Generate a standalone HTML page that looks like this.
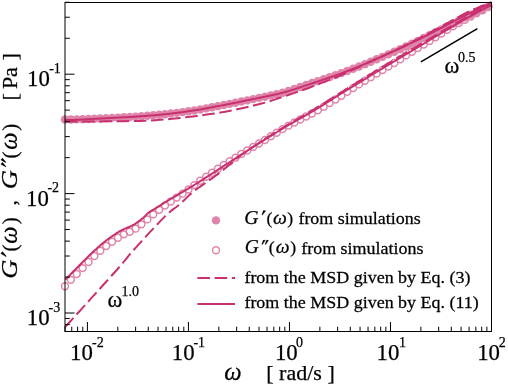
<!DOCTYPE html>
<html><head><meta charset="utf-8"><style>html,body{margin:0;padding:0;background:#fff;width:508px;height:385px;overflow:hidden}svg{display:block;will-change:transform}</style></head>
<body><svg width="508" height="385" viewBox="0 0 508 385">
<defs><clipPath id="c"><rect x="64" y="0" width="430" height="333"/></clipPath></defs>
<circle cx="65.00" cy="119.50" r="4.2" fill="#df85aa"/>
<circle cx="70.88" cy="119.53" r="4.2" fill="#df85aa"/>
<circle cx="76.76" cy="119.37" r="4.2" fill="#df85aa"/>
<circle cx="82.64" cy="119.17" r="4.2" fill="#df85aa"/>
<circle cx="88.52" cy="118.95" r="4.2" fill="#df85aa"/>
<circle cx="94.40" cy="118.71" r="4.2" fill="#df85aa"/>
<circle cx="100.28" cy="118.46" r="4.2" fill="#df85aa"/>
<circle cx="106.16" cy="118.19" r="4.2" fill="#df85aa"/>
<circle cx="112.04" cy="117.90" r="4.2" fill="#df85aa"/>
<circle cx="117.92" cy="117.60" r="4.2" fill="#df85aa"/>
<circle cx="123.80" cy="117.30" r="4.2" fill="#df85aa"/>
<circle cx="129.68" cy="116.99" r="4.2" fill="#df85aa"/>
<circle cx="135.56" cy="116.65" r="4.2" fill="#df85aa"/>
<circle cx="141.44" cy="116.26" r="4.2" fill="#df85aa"/>
<circle cx="147.32" cy="115.82" r="4.2" fill="#df85aa"/>
<circle cx="153.20" cy="115.32" r="4.2" fill="#df85aa"/>
<circle cx="159.08" cy="114.78" r="4.2" fill="#df85aa"/>
<circle cx="164.96" cy="114.19" r="4.2" fill="#df85aa"/>
<circle cx="170.84" cy="113.56" r="4.2" fill="#df85aa"/>
<circle cx="176.72" cy="112.88" r="4.2" fill="#df85aa"/>
<circle cx="182.60" cy="112.13" r="4.2" fill="#df85aa"/>
<circle cx="188.48" cy="111.32" r="4.2" fill="#df85aa"/>
<circle cx="194.36" cy="110.43" r="4.2" fill="#df85aa"/>
<circle cx="200.24" cy="109.44" r="4.2" fill="#df85aa"/>
<circle cx="206.12" cy="108.39" r="4.2" fill="#df85aa"/>
<circle cx="212.00" cy="107.29" r="4.2" fill="#df85aa"/>
<circle cx="217.88" cy="106.16" r="4.2" fill="#df85aa"/>
<circle cx="223.76" cy="105.01" r="4.2" fill="#df85aa"/>
<circle cx="229.64" cy="103.87" r="4.2" fill="#df85aa"/>
<circle cx="235.52" cy="102.73" r="4.2" fill="#df85aa"/>
<circle cx="241.40" cy="101.55" r="4.2" fill="#df85aa"/>
<circle cx="247.28" cy="100.35" r="4.2" fill="#df85aa"/>
<circle cx="253.16" cy="99.13" r="4.2" fill="#df85aa"/>
<circle cx="259.04" cy="97.90" r="4.2" fill="#df85aa"/>
<circle cx="264.92" cy="96.70" r="4.2" fill="#df85aa"/>
<circle cx="270.80" cy="95.53" r="4.2" fill="#df85aa"/>
<circle cx="276.68" cy="94.24" r="4.2" fill="#df85aa"/>
<circle cx="282.56" cy="92.69" r="4.2" fill="#df85aa"/>
<circle cx="288.44" cy="90.88" r="4.2" fill="#df85aa"/>
<circle cx="294.32" cy="88.90" r="4.2" fill="#df85aa"/>
<circle cx="300.20" cy="86.93" r="4.2" fill="#df85aa"/>
<circle cx="306.08" cy="84.99" r="4.2" fill="#df85aa"/>
<circle cx="311.96" cy="83.04" r="4.2" fill="#df85aa"/>
<circle cx="317.84" cy="81.08" r="4.2" fill="#df85aa"/>
<circle cx="323.72" cy="79.12" r="4.2" fill="#df85aa"/>
<circle cx="329.60" cy="77.14" r="4.2" fill="#df85aa"/>
<circle cx="335.48" cy="75.13" r="4.2" fill="#df85aa"/>
<circle cx="341.36" cy="73.09" r="4.2" fill="#df85aa"/>
<circle cx="347.24" cy="70.99" r="4.2" fill="#df85aa"/>
<circle cx="353.12" cy="68.80" r="4.2" fill="#df85aa"/>
<circle cx="359.00" cy="66.53" r="4.2" fill="#df85aa"/>
<circle cx="364.88" cy="64.17" r="4.2" fill="#df85aa"/>
<circle cx="370.76" cy="61.75" r="4.2" fill="#df85aa"/>
<circle cx="376.64" cy="59.32" r="4.2" fill="#df85aa"/>
<circle cx="382.52" cy="56.86" r="4.2" fill="#df85aa"/>
<circle cx="388.40" cy="54.36" r="4.2" fill="#df85aa"/>
<circle cx="394.28" cy="51.81" r="4.2" fill="#df85aa"/>
<circle cx="400.16" cy="49.20" r="4.2" fill="#df85aa"/>
<circle cx="406.04" cy="46.52" r="4.2" fill="#df85aa"/>
<circle cx="411.92" cy="43.77" r="4.2" fill="#df85aa"/>
<circle cx="417.80" cy="40.94" r="4.2" fill="#df85aa"/>
<circle cx="423.68" cy="38.07" r="4.2" fill="#df85aa"/>
<circle cx="429.56" cy="35.18" r="4.2" fill="#df85aa"/>
<circle cx="435.44" cy="32.28" r="4.2" fill="#df85aa"/>
<circle cx="441.32" cy="29.36" r="4.2" fill="#df85aa"/>
<circle cx="447.20" cy="26.40" r="4.2" fill="#df85aa"/>
<circle cx="453.08" cy="23.43" r="4.2" fill="#df85aa"/>
<circle cx="458.96" cy="20.48" r="4.2" fill="#df85aa"/>
<circle cx="464.84" cy="17.58" r="4.2" fill="#df85aa"/>
<circle cx="470.72" cy="14.75" r="4.2" fill="#df85aa"/>
<circle cx="476.60" cy="11.97" r="4.2" fill="#df85aa"/>
<circle cx="482.48" cy="9.21" r="4.2" fill="#df85aa"/>
<circle cx="488.36" cy="6.47" r="4.2" fill="#df85aa"/>
<circle cx="65.00" cy="286.20" r="3.45" fill="none" stroke="#df85aa" stroke-width="1.5"/>
<circle cx="70.88" cy="279.85" r="3.45" fill="none" stroke="#df85aa" stroke-width="1.5"/>
<circle cx="76.76" cy="273.99" r="3.45" fill="none" stroke="#df85aa" stroke-width="1.5"/>
<circle cx="82.64" cy="268.11" r="3.45" fill="none" stroke="#df85aa" stroke-width="1.5"/>
<circle cx="88.52" cy="262.00" r="3.45" fill="none" stroke="#df85aa" stroke-width="1.5"/>
<circle cx="94.40" cy="256.07" r="3.45" fill="none" stroke="#df85aa" stroke-width="1.5"/>
<circle cx="100.28" cy="250.72" r="3.45" fill="none" stroke="#df85aa" stroke-width="1.5"/>
<circle cx="106.16" cy="246.04" r="3.45" fill="none" stroke="#df85aa" stroke-width="1.5"/>
<circle cx="112.04" cy="241.74" r="3.45" fill="none" stroke="#df85aa" stroke-width="1.5"/>
<circle cx="117.92" cy="237.71" r="3.45" fill="none" stroke="#df85aa" stroke-width="1.5"/>
<circle cx="123.80" cy="234.37" r="3.45" fill="none" stroke="#df85aa" stroke-width="1.5"/>
<circle cx="129.68" cy="231.71" r="3.45" fill="none" stroke="#df85aa" stroke-width="1.5"/>
<circle cx="135.56" cy="228.63" r="3.45" fill="none" stroke="#df85aa" stroke-width="1.5"/>
<circle cx="141.44" cy="224.36" r="3.45" fill="none" stroke="#df85aa" stroke-width="1.5"/>
<circle cx="147.32" cy="219.38" r="3.45" fill="none" stroke="#df85aa" stroke-width="1.5"/>
<circle cx="153.20" cy="214.40" r="3.45" fill="none" stroke="#df85aa" stroke-width="1.5"/>
<circle cx="159.08" cy="209.74" r="3.45" fill="none" stroke="#df85aa" stroke-width="1.5"/>
<circle cx="164.96" cy="205.47" r="3.45" fill="none" stroke="#df85aa" stroke-width="1.5"/>
<circle cx="170.84" cy="201.50" r="3.45" fill="none" stroke="#df85aa" stroke-width="1.5"/>
<circle cx="176.72" cy="197.60" r="3.45" fill="none" stroke="#df85aa" stroke-width="1.5"/>
<circle cx="182.60" cy="193.64" r="3.45" fill="none" stroke="#df85aa" stroke-width="1.5"/>
<circle cx="188.48" cy="189.52" r="3.45" fill="none" stroke="#df85aa" stroke-width="1.5"/>
<circle cx="194.36" cy="185.11" r="3.45" fill="none" stroke="#df85aa" stroke-width="1.5"/>
<circle cx="200.24" cy="180.82" r="3.45" fill="none" stroke="#df85aa" stroke-width="1.5"/>
<circle cx="206.12" cy="176.76" r="3.45" fill="none" stroke="#df85aa" stroke-width="1.5"/>
<circle cx="212.00" cy="172.70" r="3.45" fill="none" stroke="#df85aa" stroke-width="1.5"/>
<circle cx="217.88" cy="168.71" r="3.45" fill="none" stroke="#df85aa" stroke-width="1.5"/>
<circle cx="223.76" cy="164.93" r="3.45" fill="none" stroke="#df85aa" stroke-width="1.5"/>
<circle cx="229.64" cy="161.29" r="3.45" fill="none" stroke="#df85aa" stroke-width="1.5"/>
<circle cx="235.52" cy="157.66" r="3.45" fill="none" stroke="#df85aa" stroke-width="1.5"/>
<circle cx="241.40" cy="154.02" r="3.45" fill="none" stroke="#df85aa" stroke-width="1.5"/>
<circle cx="247.28" cy="150.41" r="3.45" fill="none" stroke="#df85aa" stroke-width="1.5"/>
<circle cx="253.16" cy="146.92" r="3.45" fill="none" stroke="#df85aa" stroke-width="1.5"/>
<circle cx="259.04" cy="143.51" r="3.45" fill="none" stroke="#df85aa" stroke-width="1.5"/>
<circle cx="264.92" cy="139.96" r="3.45" fill="none" stroke="#df85aa" stroke-width="1.5"/>
<circle cx="270.80" cy="136.32" r="3.45" fill="none" stroke="#df85aa" stroke-width="1.5"/>
<circle cx="276.68" cy="132.69" r="3.45" fill="none" stroke="#df85aa" stroke-width="1.5"/>
<circle cx="282.56" cy="129.10" r="3.45" fill="none" stroke="#df85aa" stroke-width="1.5"/>
<circle cx="288.44" cy="125.64" r="3.45" fill="none" stroke="#df85aa" stroke-width="1.5"/>
<circle cx="294.32" cy="122.42" r="3.45" fill="none" stroke="#df85aa" stroke-width="1.5"/>
<circle cx="300.20" cy="119.43" r="3.45" fill="none" stroke="#df85aa" stroke-width="1.5"/>
<circle cx="306.08" cy="116.47" r="3.45" fill="none" stroke="#df85aa" stroke-width="1.5"/>
<circle cx="311.96" cy="113.46" r="3.45" fill="none" stroke="#df85aa" stroke-width="1.5"/>
<circle cx="317.84" cy="110.19" r="3.45" fill="none" stroke="#df85aa" stroke-width="1.5"/>
<circle cx="323.72" cy="106.66" r="3.45" fill="none" stroke="#df85aa" stroke-width="1.5"/>
<circle cx="329.60" cy="103.12" r="3.45" fill="none" stroke="#df85aa" stroke-width="1.5"/>
<circle cx="335.48" cy="99.55" r="3.45" fill="none" stroke="#df85aa" stroke-width="1.5"/>
<circle cx="341.36" cy="95.77" r="3.45" fill="none" stroke="#df85aa" stroke-width="1.5"/>
<circle cx="347.24" cy="91.87" r="3.45" fill="none" stroke="#df85aa" stroke-width="1.5"/>
<circle cx="353.12" cy="88.07" r="3.45" fill="none" stroke="#df85aa" stroke-width="1.5"/>
<circle cx="359.00" cy="84.38" r="3.45" fill="none" stroke="#df85aa" stroke-width="1.5"/>
<circle cx="364.88" cy="80.76" r="3.45" fill="none" stroke="#df85aa" stroke-width="1.5"/>
<circle cx="370.76" cy="77.16" r="3.45" fill="none" stroke="#df85aa" stroke-width="1.5"/>
<circle cx="376.64" cy="73.56" r="3.45" fill="none" stroke="#df85aa" stroke-width="1.5"/>
<circle cx="382.52" cy="69.96" r="3.45" fill="none" stroke="#df85aa" stroke-width="1.5"/>
<circle cx="388.40" cy="66.46" r="3.45" fill="none" stroke="#df85aa" stroke-width="1.5"/>
<circle cx="394.28" cy="62.95" r="3.45" fill="none" stroke="#df85aa" stroke-width="1.5"/>
<circle cx="400.16" cy="59.19" r="3.45" fill="none" stroke="#df85aa" stroke-width="1.5"/>
<circle cx="406.04" cy="55.40" r="3.45" fill="none" stroke="#df85aa" stroke-width="1.5"/>
<circle cx="411.92" cy="51.71" r="3.45" fill="none" stroke="#df85aa" stroke-width="1.5"/>
<circle cx="417.80" cy="48.06" r="3.45" fill="none" stroke="#df85aa" stroke-width="1.5"/>
<circle cx="423.68" cy="44.47" r="3.45" fill="none" stroke="#df85aa" stroke-width="1.5"/>
<circle cx="429.56" cy="40.91" r="3.45" fill="none" stroke="#df85aa" stroke-width="1.5"/>
<circle cx="435.44" cy="37.29" r="3.45" fill="none" stroke="#df85aa" stroke-width="1.5"/>
<circle cx="441.32" cy="33.53" r="3.45" fill="none" stroke="#df85aa" stroke-width="1.5"/>
<circle cx="447.20" cy="29.83" r="3.45" fill="none" stroke="#df85aa" stroke-width="1.5"/>
<circle cx="453.08" cy="26.34" r="3.45" fill="none" stroke="#df85aa" stroke-width="1.5"/>
<circle cx="458.96" cy="22.97" r="3.45" fill="none" stroke="#df85aa" stroke-width="1.5"/>
<circle cx="464.84" cy="19.69" r="3.45" fill="none" stroke="#df85aa" stroke-width="1.5"/>
<circle cx="470.72" cy="16.51" r="3.45" fill="none" stroke="#df85aa" stroke-width="1.5"/>
<circle cx="476.60" cy="13.34" r="3.45" fill="none" stroke="#df85aa" stroke-width="1.5"/>
<circle cx="482.48" cy="10.18" r="3.45" fill="none" stroke="#df85aa" stroke-width="1.5"/>
<circle cx="488.36" cy="7.02" r="3.45" fill="none" stroke="#df85aa" stroke-width="1.5"/>
<g clip-path="url(#c)">
<path d="M65.00,121.00 L65.69,121.05 L66.44,121.13 L67.31,121.22 L68.38,121.32 L69.71,121.41 L71.38,121.50 L73.45,121.56 L76.00,121.60 L79.11,121.61 L82.74,121.60 L86.80,121.58 L91.19,121.54 L95.80,121.49 L100.54,121.43 L105.31,121.37 L110.00,121.30 L114.71,121.24 L119.58,121.20 L124.56,121.16 L129.62,121.11 L134.74,121.03 L139.86,120.92 L144.96,120.74 L150.00,120.50 L155.00,120.19 L160.00,119.83 L165.00,119.43 L170.00,118.97 L175.00,118.48 L180.00,117.95 L185.00,117.39 L190.00,116.80 L195.03,116.18 L200.12,115.51 L205.22,114.82 L210.31,114.08 L215.37,113.31 L220.35,112.51 L225.24,111.67 L230.00,110.80 L234.75,109.86 L239.57,108.83 L244.37,107.74 L249.06,106.63 L253.56,105.53 L257.77,104.47 L261.62,103.48 L265.00,102.60 L267.76,101.85 L269.92,101.22 L271.65,100.67 L273.12,100.16 L274.52,99.65 L276.02,99.09 L277.78,98.46 L280.00,97.70 L282.61,96.84 L285.43,95.92 L288.42,94.95 L291.56,93.92 L294.82,92.85 L298.16,91.71 L301.57,90.53 L305.00,89.30 L308.65,87.94 L312.62,86.43 L316.76,84.83 L320.94,83.19 L325.00,81.59 L328.79,80.08 L332.17,78.73 L335.00,77.60 L337.07,76.77 L338.44,76.23 L339.34,75.86 L340.00,75.58 L340.66,75.28 L341.56,74.87 L342.93,74.24 L345.00,73.30 L347.79,72.03 L351.09,70.52 L354.79,68.83 L358.75,67.01 L362.87,65.11 L367.03,63.19 L371.11,61.30 L375.00,59.50 L378.75,57.77 L382.50,56.05 L386.25,54.33 L390.00,52.61 L393.75,50.87 L397.50,49.11 L401.25,47.32 L405.00,45.50 L408.75,43.64 L412.50,41.75 L416.25,39.84 L420.00,37.91 L423.75,35.95 L427.50,33.98 L431.25,32.00 L435.00,30.00 L438.77,27.95 L442.58,25.83 L446.40,23.67 L450.22,21.50 L454.01,19.37 L457.75,17.30 L461.42,15.33 L465.00,13.50 L468.66,11.74 L472.49,10.00 L476.36,8.32 L480.12,6.72 L483.66,5.25 L486.82,3.95 L489.48,2.85 L491.50,2.00" fill="none" stroke="#c9306f" stroke-width="2" stroke-dasharray="12.6,4.6"/>
<path d="M65.00,327.20 L69.23,322.53 L75.11,316.05 L82.13,308.30 L89.79,299.85 L97.59,291.24 L105.01,283.02 L111.55,275.76 L116.70,270.00 L120.38,265.81 L123.03,262.70 L124.95,260.37 L126.42,258.52 L127.73,256.86 L129.17,255.08 L131.03,252.90 L133.60,250.00 L136.95,246.30 L140.83,242.05 L145.06,237.44 L149.45,232.69 L153.83,228.01 L158.00,223.59 L161.78,219.65 L165.00,216.40 L167.63,213.87 L169.85,211.90 L171.75,210.35 L173.41,209.10 L174.93,208.02 L176.39,206.97 L177.88,205.84 L179.50,204.50 L181.18,202.99 L182.80,201.46 L184.39,199.91 L185.96,198.37 L187.52,196.84 L189.08,195.35 L190.67,193.90 L192.30,192.50 L193.95,191.18 L195.61,189.92 L197.28,188.71 L198.96,187.53 L200.66,186.36 L202.38,185.18 L204.13,183.96 L205.90,182.70 L207.68,181.42 L209.46,180.17 L211.24,178.91 L213.06,177.62 L214.91,176.29 L216.83,174.90 L218.82,173.40 L220.90,171.80 L223.12,170.02 L225.48,168.07 L227.94,166.00 L230.45,163.88 L232.96,161.75 L235.42,159.69 L237.78,157.75 L240.00,156.00 L241.97,154.49 L243.69,153.20 L245.27,152.05 L246.82,150.95 L248.46,149.83 L250.29,148.60 L252.44,147.18 L255.00,145.50 L258.03,143.52 L261.45,141.32 L265.15,138.94 L269.06,136.45 L273.09,133.90 L277.15,131.36 L281.15,128.87 L285.00,126.50 L288.75,124.23 L292.50,122.01 L296.25,119.82 L300.00,117.64 L303.75,115.46 L307.50,113.27 L311.25,111.06 L315.00,108.80 L318.75,106.50 L322.50,104.17 L326.25,101.82 L330.00,99.45 L333.75,97.08 L337.50,94.70 L341.25,92.34 L345.00,90.00 L348.75,87.67 L352.50,85.34 L356.25,83.02 L360.00,80.70 L363.75,78.39 L367.50,76.08 L371.25,73.79 L375.00,71.50 L378.75,69.23 L382.50,66.96 L386.25,64.71 L390.00,62.46 L393.75,60.22 L397.50,57.98 L401.25,55.74 L405.00,53.50 L408.75,51.26 L412.50,49.01 L416.25,46.77 L420.00,44.53 L423.75,42.29 L427.50,40.05 L431.25,37.82 L435.00,35.60 L438.77,33.36 L442.58,31.09 L446.40,28.82 L450.22,26.56 L454.01,24.32 L457.75,22.14 L461.42,20.03 L465.00,18.00 L468.66,15.98 L472.49,13.92 L476.36,11.87 L480.12,9.90 L483.66,8.07 L486.82,6.43 L489.48,5.06 L491.50,4.00" fill="none" stroke="#c9306f" stroke-width="2" stroke-dasharray="12.6,4.6"/>
<path d="M65.00,119.90 L65.69,119.90 L66.44,119.92 L67.31,119.94 L68.38,119.96 L69.71,119.97 L71.38,119.95 L73.45,119.89 L76.00,119.80 L79.11,119.66 L82.74,119.48 L86.80,119.28 L91.19,119.04 L95.80,118.79 L100.54,118.53 L105.31,118.27 L110.00,118.00 L114.71,117.74 L119.58,117.49 L124.56,117.24 L129.62,116.97 L134.74,116.68 L139.86,116.36 L144.96,116.00 L150.00,115.60 L155.00,115.16 L160.00,114.69 L165.00,114.19 L170.00,113.66 L175.00,113.08 L180.00,112.47 L185.00,111.81 L190.00,111.10 L195.07,110.31 L200.23,109.44 L205.44,108.51 L210.62,107.55 L215.73,106.57 L220.70,105.61 L225.48,104.67 L230.00,103.80 L234.30,102.97 L238.44,102.15 L242.42,101.35 L246.25,100.56 L249.92,99.80 L253.44,99.07 L256.80,98.37 L260.00,97.70 L262.98,97.09 L265.70,96.54 L268.23,96.03 L270.62,95.54 L272.94,95.06 L275.23,94.55 L277.57,94.01 L280.00,93.40 L282.33,92.80 L284.41,92.24 L286.40,91.69 L288.44,91.09 L290.67,90.41 L293.24,89.60 L296.30,88.61 L300.00,87.40 L304.53,85.90 L309.84,84.14 L315.70,82.19 L321.88,80.11 L328.12,77.98 L334.22,75.87 L339.92,73.85 L345.00,72.00 L349.47,70.31 L353.55,68.69 L357.35,67.14 L360.94,65.63 L364.41,64.13 L367.85,62.63 L371.35,61.09 L375.00,59.50 L378.75,57.87 L382.50,56.23 L386.25,54.57 L390.00,52.89 L393.75,51.20 L397.50,49.49 L401.25,47.76 L405.00,46.00 L408.75,44.22 L412.50,42.41 L416.25,40.58 L420.00,38.74 L423.75,36.87 L427.50,34.99 L431.25,33.10 L435.00,31.20 L438.77,29.26 L442.58,27.26 L446.40,25.24 L450.22,23.21 L454.01,21.19 L457.75,19.22 L461.42,17.32 L465.00,15.50 L468.66,13.70 L472.49,11.86 L476.36,10.03 L480.12,8.27 L483.66,6.63 L486.82,5.17 L489.48,3.94 L491.50,3.00" fill="none" stroke="#c9306f" stroke-width="2"/>
<path d="M65.40,279.50 L67.24,277.65 L69.78,275.09 L72.81,272.03 L76.13,268.69 L79.52,265.28 L82.77,262.02 L85.67,259.12 L88.00,256.80 L89.78,255.04 L91.22,253.64 L92.40,252.50 L93.39,251.56 L94.28,250.74 L95.14,249.96 L96.05,249.14 L97.10,248.20 L98.22,247.20 L99.31,246.22 L100.39,245.27 L101.48,244.32 L102.59,243.38 L103.74,242.44 L104.93,241.48 L106.20,240.50 L107.58,239.46 L109.09,238.37 L110.68,237.24 L112.29,236.12 L113.87,235.03 L115.39,234.01 L116.78,233.09 L118.00,232.30 L119.01,231.67 L119.86,231.17 L120.57,230.77 L121.22,230.44 L121.84,230.15 L122.50,229.85 L123.23,229.51 L124.10,229.10 L125.09,228.65 L126.16,228.19 L127.29,227.73 L128.46,227.25 L129.66,226.75 L130.85,226.21 L132.04,225.63 L133.20,225.00 L134.35,224.31 L135.53,223.56 L136.71,222.76 L137.89,221.94 L139.06,221.09 L140.19,220.25 L141.27,219.41 L142.30,218.60 L143.24,217.80 L144.11,217.00 L144.92,216.20 L145.70,215.39 L146.48,214.60 L147.29,213.82 L148.16,213.05 L149.10,212.30 L150.13,211.57 L151.22,210.87 L152.36,210.18 L153.53,209.51 L154.71,208.83 L155.89,208.16 L157.06,207.49 L158.20,206.80 L159.18,206.18 L159.97,205.67 L160.68,205.20 L161.42,204.70 L162.31,204.12 L163.46,203.38 L164.98,202.43 L167.00,201.20 L169.57,199.66 L172.60,197.87 L176.01,195.86 L179.68,193.71 L183.51,191.44 L187.41,189.12 L191.27,186.79 L195.00,184.50 L198.65,182.21 L202.36,179.86 L206.10,177.46 L209.88,175.02 L213.66,172.56 L217.45,170.09 L221.24,167.64 L225.00,165.20 L228.75,162.77 L232.50,160.34 L236.25,157.90 L240.00,155.46 L243.75,153.02 L247.50,150.60 L251.25,148.19 L255.00,145.80 L258.75,143.43 L262.50,141.06 L266.25,138.71 L270.00,136.37 L273.75,134.04 L277.50,131.74 L281.25,129.46 L285.00,127.20 L288.75,124.98 L292.50,122.82 L296.25,120.68 L300.00,118.56 L303.75,116.43 L307.50,114.29 L311.25,112.12 L315.00,109.90 L318.75,107.63 L322.50,105.31 L326.25,102.97 L330.00,100.61 L333.75,98.24 L337.50,95.87 L341.25,93.52 L345.00,91.20 L348.75,88.90 L352.50,86.61 L356.25,84.33 L360.00,82.06 L363.75,79.79 L367.50,77.52 L371.25,75.26 L375.00,73.00 L378.75,70.74 L382.50,68.49 L386.25,66.24 L390.00,63.99 L393.75,61.74 L397.50,59.50 L401.25,57.25 L405.00,55.00 L408.75,52.75 L412.50,50.50 L416.25,48.24 L420.00,45.99 L423.75,43.74 L427.50,41.49 L431.25,39.24 L435.00,37.00 L438.77,34.74 L442.58,32.45 L446.40,30.15 L450.22,27.86 L454.01,25.60 L457.75,23.39 L461.42,21.25 L465.00,19.20 L468.66,17.16 L472.49,15.06 L476.36,12.99 L480.12,10.99 L483.66,9.13 L486.82,7.47 L489.48,6.07 L491.50,5.00" fill="none" stroke="#c9306f" stroke-width="2"/>
</g>
<line x1="420.9" y1="61.8" x2="477.4" y2="28.6" stroke="#000" stroke-width="1.5"/>
<rect x="65" y="2.5" width="426.5" height="329" fill="none" stroke="#000" stroke-width="1"/>
<path d="M65.00,331.5 V326.70 M71.76,331.5 V326.70 M77.62,331.5 V326.70 M82.79,331.5 V326.70 M87.41,331.5 V322.00 M117.82,331.5 V326.70 M135.61,331.5 V326.70 M148.23,331.5 V326.70 M158.02,331.5 V326.70 M166.02,331.5 V326.70 M172.78,331.5 V326.70 M178.64,331.5 V326.70 M183.81,331.5 V326.70 M188.43,331.5 V322.00 M218.84,331.5 V326.70 M236.63,331.5 V326.70 M249.25,331.5 V326.70 M259.04,331.5 V326.70 M267.04,331.5 V326.70 M273.80,331.5 V326.70 M279.66,331.5 V326.70 M284.83,331.5 V326.70 M289.45,331.5 V322.00 M319.86,331.5 V326.70 M337.65,331.5 V326.70 M350.27,331.5 V326.70 M360.06,331.5 V326.70 M368.06,331.5 V326.70 M374.82,331.5 V326.70 M380.68,331.5 V326.70 M385.85,331.5 V326.70 M390.47,331.5 V322.00 M420.88,331.5 V326.70 M438.67,331.5 V326.70 M451.29,331.5 V326.70 M461.08,331.5 V326.70 M469.08,331.5 V326.70 M475.84,331.5 V326.70 M481.70,331.5 V326.70 M486.87,331.5 V326.70 M491.49,331.5 V322.00 M65.0,331.50 H69.80 M65.0,324.57 H69.80 M65.0,318.46 H69.80 M65.0,313.00 H74.50 M65.0,277.06 H69.80 M65.0,256.03 H69.80 M65.0,241.11 H69.80 M65.0,229.54 H69.80 M65.0,220.09 H69.80 M65.0,212.10 H69.80 M65.0,205.17 H69.80 M65.0,199.06 H69.80 M65.0,193.60 H74.50 M65.0,157.66 H69.80 M65.0,136.63 H69.80 M65.0,121.71 H69.80 M65.0,110.14 H69.80 M65.0,100.69 H69.80 M65.0,92.70 H69.80 M65.0,85.77 H69.80 M65.0,79.66 H69.80 M65.0,74.20 H74.50 M65.0,38.26 H69.80 M65.0,17.23 H69.80 M65.0,2.31 H69.80" stroke="#000" stroke-width="1" fill="none"/>

<g font-family="Liberation Serif" fill="#000" stroke="#000" stroke-width="0.25">
 <text x="27.05" y="86.4" font-size="22.8">10</text><text x="49.2" y="72.7" font-size="14">-1</text>
 <text x="26.05" y="205.6" font-size="22.8">10</text><text x="47.4" y="192.1" font-size="14">-2</text>
 <text x="26.75" y="325.4" font-size="22.8">10</text><text x="48.5" y="311.9" font-size="14">-3</text>
 <text x="70.05" y="359.6" font-size="22.8">10</text><text x="92" y="347" font-size="14">-2</text>
 <text x="171.85" y="359.6" font-size="22.8">10</text><text x="193.4" y="347" font-size="14">-1</text>
 <text x="274.95" y="359.6" font-size="22.8">10</text><text x="296.1" y="347" font-size="14">0</text>
 <text x="376.55" y="359.6" font-size="22.8">10</text><text x="399.1" y="347" font-size="14">1</text>
 <text x="477.15" y="359.6" font-size="22.8">10</text><text x="498.7" y="347" font-size="14">2</text>
 <text x="224.3" y="379.9" font-size="24.6" font-style="italic">ω</text>
 <text x="266.3" y="380.4" font-size="22">[ rad/s ]</text>
 <text x="107.4" y="307" font-size="22.5">ω</text><text x="121.6" y="295.9" font-size="14">1.0</text>
 <text x="444.6" y="73" font-size="22.5">ω</text><text x="457.9" y="61.9" font-size="14">0.5</text>
 <g transform="translate(17.2,0) rotate(-90)">
  <text transform="translate(-278.8,0) scale(1.1,1)" font-size="24" font-style="italic">G</text>
  <text x="-251.5" y="0" font-size="21">(</text>
  <text x="-243.7" y="0" font-size="24.4" font-style="italic">ω</text>
  <text x="-224.2" y="0" font-size="21">)</text>
  <text x="-205.6" y="-0.8" font-size="21.5">,</text>
  <text transform="translate(-189.3,0) scale(1.1,1)" font-size="24" font-style="italic">G</text>
  <text x="-158.4" y="0" font-size="21">(</text>
  <text x="-149.7" y="0" font-size="24.4" font-style="italic">ω</text>
  <text x="-130.7" y="0" font-size="21">)</text>
 </g>
 <g transform="translate(16.9,0) rotate(-90)" font-size="22">
  <text x="-100.4" y="0">[</text><text x="-89" y="0">P</text><text x="-76.9" y="0">a</text><text x="-60.6" y="0">]</text>
 </g>
 <path d="M0.8,253.6 L2.4,251.6 L6.4,256.2 L6,256.7 Z"/>
 <path d="M0.8,164.2 L2.4,162.2 L6.1,166.5 L5.8,166.9 Z M0.8,160.0 L2.4,158.0 L6.1,162.3 L5.8,162.7 Z"/>
 <g font-size="18">
  <text x="244.3" y="224" font-size="19.7" font-style="italic">G</text>
  <path d="M263.4,210.5 L265.8,210.7 L262.5,215 L261.8,214.7 Z"/>
  <text x="266.4" y="223.6" font-size="17.7">(</text>
  <text x="273" y="223.8" font-size="19.6" font-style="italic">ω</text>
  <text x="287.2" y="223.6" font-size="17.7">)</text>
  <text transform="translate(298.4,223.9) scale(1.04,1)" font-size="17.3">from simulations</text>
  <text x="244.7" y="253.4" font-size="19.5" font-style="italic">G</text>
  <path d="M263.3,240.1 L265.3,240.3 L262.4,244.6 L261.7,244.3 Z M266.6,240.1 L268.6,240.3 L265.7,244.6 L265,244.3 Z"/>
  <text x="268.7" y="253.4" font-size="17.7">(</text>
  <text x="275.7" y="253.4" font-size="19.6" font-style="italic">ω</text>
  <text x="290.2" y="253.4" font-size="17.7">)</text>
  <text transform="translate(301.2,253.9) scale(1.04,1)" font-size="17.3">from simulations</text>
  <text transform="translate(244.4,282.9) scale(1.04,1)" font-size="17.3">from the MSD given by Eq. (3)</text>
  <text transform="translate(244.4,308.2) scale(1.04,1)" font-size="17.3">from the MSD given by Eq. (11)</text>
 </g>
</g>
<g>
 <circle cx="216" cy="220.4" r="4.2" fill="#df85aa"/>
 <circle cx="216" cy="250.2" r="3.45" fill="none" stroke="#df85aa" stroke-width="1.5"/>
 <line x1="197.4" y1="278" x2="235" y2="278" stroke="#c9306f" stroke-width="2" stroke-dasharray="12.6,4.6"/>
 <line x1="197.4" y1="304" x2="235" y2="304" stroke="#c9306f" stroke-width="2"/>
</g>
</svg></body></html>
